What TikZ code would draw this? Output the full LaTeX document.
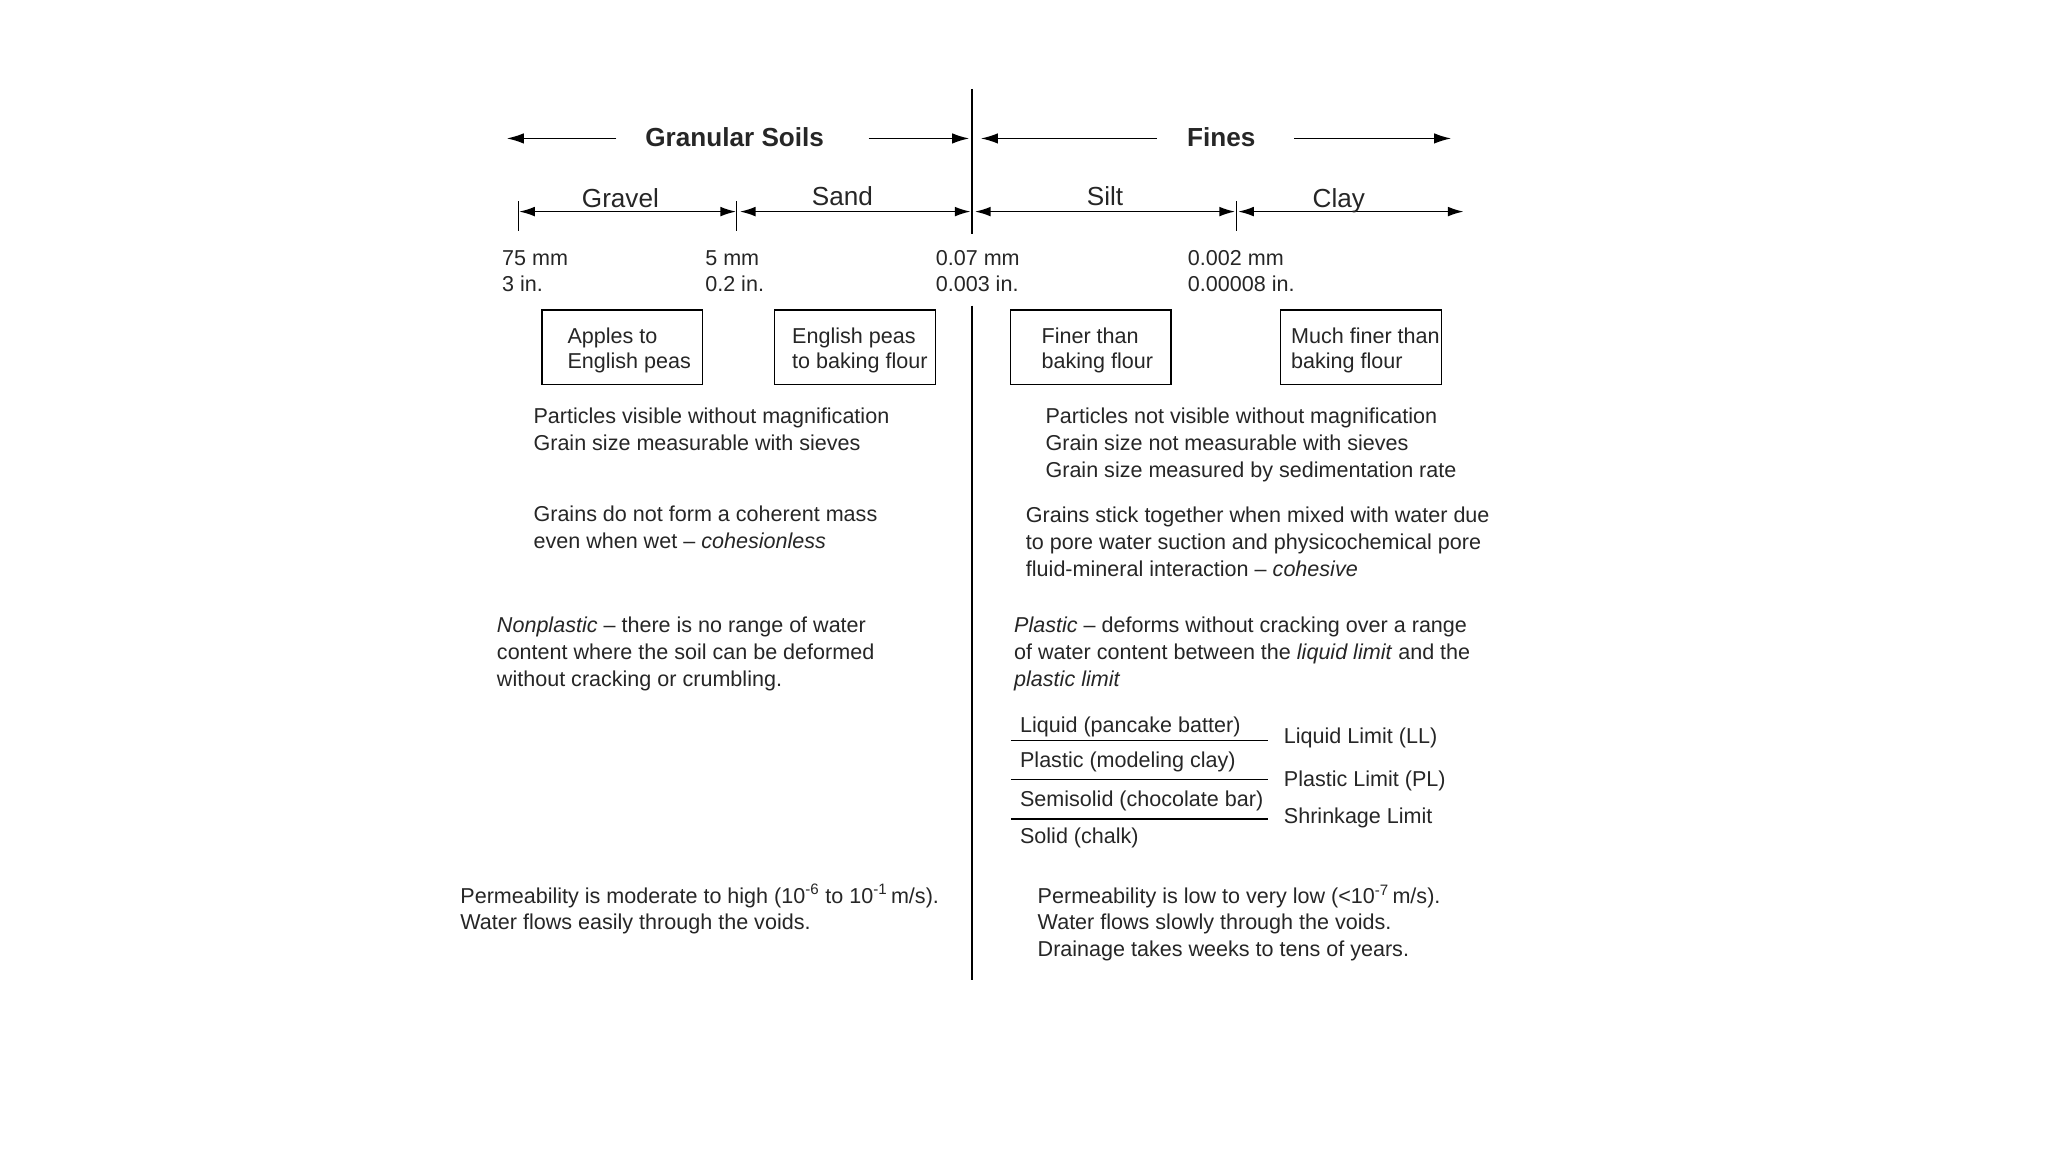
\documentclass[tikz,border=0pt]{standalone}
\usepackage{fontspec}
\setmainfont{Liberation Sans}
\usetikzlibrary{arrows.meta}
\definecolor{txtc}{HTML}{262626}
\begin{document}
\begin{tikzpicture}[x=1pt,y=-1pt,
  every node/.style={inner sep=0pt, outer sep=0pt, text=txtc},
  body/.style={anchor=base west, align=left, font=\fontsize{16.5}{20.5}\selectfont},
  boxtxt/.style={anchor=base west, align=left, font=\fontsize{16.5}{19.5}\selectfont},
  head/.style={anchor=base, font=\fontsize{20}{24}\selectfont\bfseries},
  rangelbl/.style={anchor=base, font=\fontsize{20}{24}\selectfont},
  sbox/.style={draw=black, line width=1pt, minimum width=123pt, minimum height=57pt},
  tip/.style={-{Latex[length=13pt,width=8pt]}, line width=1.1pt},
  dtip/.style={{Latex[length=12pt,width=7.5pt]}-{Latex[length=12pt,width=7.5pt]}, line width=1.1pt},
  rule/.style={line width=1.1pt},
  divider/.style={line width=1.3pt},
]
\useasboundingbox[fill=white] (0,0) rectangle (1568,882);

% divider
\coordinate (dtop) at (744,68);
\coordinate (dmid1) at (744,179);
\coordinate (dmid2) at (744,234);
\coordinate (dbot) at (744,750);
\draw[divider] (dtop) -- (dmid1);
\draw[divider] (dmid2) -- (dbot);

% row 1
\node[head] (gs) at (562.5,112) {Granular Soils};
\node[head] (fi) at (935,112) {Fines};
\coordinate (gsl) at (472,106); \coordinate (gsla) at (388,106);
\coordinate (gsr) at (665,106); \coordinate (gsra) at (742,106);
\coordinate (fil) at (886,106); \coordinate (fila) at (751,106);
\coordinate (fir) at (991,106); \coordinate (fira) at (1111,106);
\draw[tip] (gsl) -- (gsla);
\draw[tip] (gsr) -- (gsra);
\draw[tip] (fil) -- (fila);
\draw[tip] (fir) -- (fira);

% row 2 ticks
\coordinate (k1t) at (397,154); \coordinate (k1b) at (397,177);
\coordinate (k2t) at (564,154); \coordinate (k2b) at (564,177);
\coordinate (k3t) at (946.5,154); \coordinate (k3b) at (946.5,177);
\draw[rule] (k1t) -- (k1b);
\draw[rule] (k2t) -- (k2b);
\draw[rule] (k3t) -- (k3b);
\coordinate (g1) at (397.5,162); \coordinate (g2) at (563.5,162);
\coordinate (s1) at (566.5,162); \coordinate (s2) at (743,162);
\coordinate (si1) at (746.5,162); \coordinate (si2) at (945.5,162);
\coordinate (c1) at (948,162); \coordinate (c2) at (1120.5,162);
\draw[dtip] (g1) -- (g2);
\draw[dtip] (s1) -- (s2);
\draw[dtip] (si1) -- (si2);
\draw[dtip] (c1) -- (c2);
\node[rangelbl] (gravel) at (475,158.5) {Gravel};
\node[rangelbl] (sand) at (645,157) {Sand};
\node[rangelbl] (silt) at (846,157) {Silt};
\node[rangelbl] (clay) at (1025,158.5) {Clay};

% size limits (base anchor = last line)
\node[body] (z1) at (384.5,223.5) {75 mm\\3 in.};
\node[body] (z2) at (540,223.5) {5 mm\\0.2 in.};
\node[body] (z3) at (716.5,223.5) {0.07 mm\\0.003 in.};
\node[body] (z4) at (909.5,223.5) {0.002 mm\\0.00008 in.};

% boxes
\node[sbox] (b1) at (476.5,265.8) {};
\node[sbox] (b2) at (654.5,265.8) {};
\node[sbox] (b3) at (835,265.8) {};
\node[sbox] (b4) at (1042,265.8) {};
\node[boxtxt] (b1t) at (434.5,282.5) {Apples to\\English peas};
\node[boxtxt] (b2t) at (606.5,282.5) {English peas\\to baking flour};
\node[boxtxt] (b3t) at (797.5,282.5) {Finer than\\baking flour};
\node[boxtxt] (b4t) at (988.5,282.5) {Much finer than\\baking flour};

% left column
\node[body] (l1) at (408.5,345) {Particles visible without magnification\\Grain size measurable with sieves};
\node[body] (l2) at (408.5,420) {Grains do not form a coherent mass\\even when wet -- \textit{cohesionless}};
\node[body] (l3) at (380.5,525.5) {\textit{Nonplastic} -- there is no range of water\\content where the soil can be deformed\\without cracking or crumbling.};
\node[body] (l4) at (352.5,712) {Permeability is moderate to high (10\textsuperscript{-6} to 10\textsuperscript{-1}\,m/s).\\Water flows easily through the voids.};

% right column
\node[body] (r1) at (800.5,365.5) {Particles not visible without magnification\\Grain size not measurable with sieves\\Grain size measured by sedimentation rate};
\node[body] (r2) at (785.5,441) {Grains stick together when mixed with water due\\to pore water suction and physicochemical pore\\fluid-mineral interaction -- \textit{cohesive}};
\node[body] (r3) at (776.5,525.5) {\textit{Plastic} -- deforms without cracking over a range\\of water content between the \textit{liquid limit} and the\\\textit{plastic limit}};

% consistency table
\node[body] (t1) at (781,560.5) {Liquid (pancake batter)};
\node[body] (t2) at (781,587.5) {Plastic (modeling clay)};
\node[body] (t3) at (781,617.5) {Semisolid (chocolate bar)};
\node[body] (t4) at (781,645.5) {Solid (chalk)};
\coordinate (h1a) at (774,567); \coordinate (h1b) at (971,567);
\coordinate (h2a) at (774,597); \coordinate (h2b) at (971,597);
\coordinate (h3a) at (774,627); \coordinate (h3b) at (971,627);
\draw[rule] (h1a) -- (h1b);
\draw[rule] (h2a) -- (h2b);
\draw[rule] (h3a) -- (h3b);
\node[body] (ll) at (983,569.5) {Liquid Limit (LL)};
\node[body] (pl) at (983,602.5) {Plastic Limit (PL)};
\node[body] (sl) at (983,630.5) {Shrinkage Limit};

\node[body] (r4) at (794.5,732.5) {Permeability is low to very low (<10\textsuperscript{-7}\,m/s).\\Water flows slowly through the voids.\\Drainage takes weeks to tens of years.};
\end{tikzpicture}
\end{document}
